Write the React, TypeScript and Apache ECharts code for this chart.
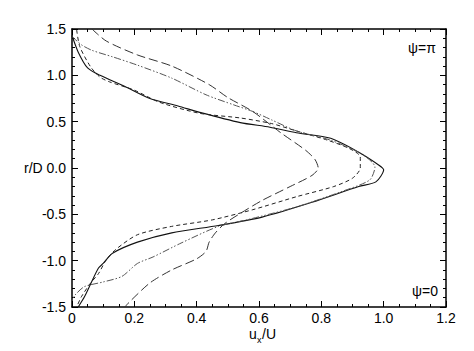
import React, { useEffect, useRef } from "react";
import * as echarts from "echarts";

// x ticks / y ticks
const xTicks = [0, 0.2, 0.4, 0.6, 0.8, 1.0, 1.2];
const yTicks = [-1.5, -1.0, -0.5, 0.0, 0.5, 1.0, 1.5];

// Solid curve
const solidU = [0, 0.02, 0.05, 0.09, 0.17, 0.25, 0.34, 0.41, 0.54, 0.635, 0.72, 0.83, 0.92, 0.985, 1.0, 0.975, 0.92, 0.77, 0.61, 0.47, 0.32, 0.21, 0.13, 0.10, 0.085, 0.06, 0.04, 0.02];
const solidR = [1.43, 1.25, 1.08, 1.0, 0.88, 0.75, 0.67, 0.60, 0.49, 0.44, 0.38, 0.32, 0.17, 0.03, -0.02, -0.15, -0.2, -0.37, -0.53, -0.62, -0.70, -0.80, -0.92, -1.03, -1.08, -1.25, -1.39, -1.5];

// Short-dash curve
const shortU = [0.015, 0.025, 0.06, 0.09, 0.12, 0.2, 0.28, 0.41, 0.54, 0.64, 0.72, 0.82, 0.89, 0.925, 0.925, 0.90, 0.84, 0.72, 0.58, 0.45, 0.32, 0.21, 0.14, 0.11, 0.085, 0.06, 0.03, 0.015];
const shortR = [1.49, 1.31, 1.09, 0.98, 0.93, 0.84, 0.71, 0.59, 0.54, 0.48, 0.40, 0.30, 0.21, 0.12, 0.0, -0.11, -0.2, -0.31, -0.45, -0.56, -0.63, -0.72, -0.88, -0.99, -1.14, -1.24, -1.39, -1.5];

// Dash-dot curve
const dotU = [0.0, 0.03, 0.064, 0.13, 0.21, 0.32, 0.43, 0.52, 0.58, 0.64, 0.72, 0.83, 0.93, 0.972, 0.955, 0.86, 0.72, 0.56, 0.47, 0.35, 0.26, 0.21, 0.16, 0.10, 0.04, 0.01, 0.0];
const dotR = [1.42, 1.33, 1.27, 1.2, 1.11, 0.97, 0.79, 0.68, 0.61, 0.52, 0.40, 0.30, 0.15, 0.01, -0.13, -0.26, -0.42, -0.56, -0.63, -0.81, -0.96, -1.03, -1.17, -1.23, -1.28, -1.37, -1.43];

// Long-dash curve
const longU = [0.064, 0.11, 0.21, 0.32, 0.44, 0.50, 0.58, 0.67, 0.75, 0.78, 0.79, 0.77, 0.70, 0.61, 0.54, 0.49, 0.46, 0.44, 0.43, 0.40, 0.32, 0.25, 0.18, 0.17];
const longR = [1.5, 1.37, 1.22, 1.1, 0.9, 0.76, 0.61, 0.38, 0.19, 0.09, 0.0, -0.08, -0.2, -0.35, -0.49, -0.6, -0.7, -0.8, -0.9, -0.98, -1.1, -1.24, -1.46, -1.5];

const pairs = (u: number[], r: number[]) => u.map((v, i) => [v, r[i]]);

const FONT = "Liberation Sans";

export default function App() {
  const ref = useRef<HTMLDivElement>(null);
  useEffect(() => {
    if (!ref.current) return;
    const chart = echarts.init(ref.current, null, { renderer: "svg" });
    const axisLine = { show: true, onZero: false, lineStyle: { color: "#000", width: 1.5 } };
    const grid = { left: 72, right: 28, top: 29, bottom: 44 };
    const mkX = (pos: string, labels: boolean) => ({
      type: "value",
      position: pos,
      min: xTicks[0],
      max: xTicks[xTicks.length - 1],
      interval: 0.2,
      axisLine,
      axisTick: { show: true, inside: true, length: 6, lineStyle: { color: "#000" } },
      minorTick: { show: true, splitNumber: 4, length: 3, lineStyle: { color: "#000" } },
      splitLine: { show: false },
      axisLabel: {
        show: labels,
        color: "#000",
        fontFamily: FONT,
        fontSize: 14,
        lineHeight: 14,
        margin: 4,
        formatter: (v: number) => (Math.abs(v) < 1e-9 ? "0" : v.toFixed(1)),
      },
    });
    const mkY = (pos: string, labels: boolean) => ({
      type: "value",
      position: pos,
      min: yTicks[0],
      max: yTicks[yTicks.length - 1],
      interval: 0.5,
      axisLine,
      axisTick: { show: true, inside: true, length: 6, lineStyle: { color: "#000" } },
      minorTick: { show: true, splitNumber: 5, length: 3, lineStyle: { color: "#000" } },
      splitLine: { show: false },
      axisLabel: {
        show: labels,
        color: "#000",
        fontFamily: FONT,
        fontSize: 14,
        margin: 6,
        formatter: (v: number) => (Math.abs(v) < 1e-9 ? "0.0" : v.toFixed(1)),
      },
    });
    const line = (name: string, data: number[][], type: any, color: string, width = 1) => ({
      name,
      type: "line",
      data,
      showSymbol: false,
      symbol: "none",
      smooth: 0.25,
      xAxisIndex: 0,
      yAxisIndex: 0,
      lineStyle: { color, width, type },
    });
    chart.setOption({
      animation: false,
      backgroundColor: "#fff",
      grid,
      xAxis: [mkX("bottom", true), mkX("top", false)],
      yAxis: [mkY("left", true), mkY("right", false)],
      series: [
        line("solid", pairs(solidU, solidR), "solid", "#111", 1.1),
        line("short", pairs(shortU, shortR), [4, 3], "#222", 1),
        line("dashdot", pairs(dotU, dotR), [7, 2, 1.5, 2, 1.5, 2], "#555", 1),
        line("long", pairs(longU, longR), [9, 4], "#333", 1),
      ],
      graphic: [
        {
          type: "text",
          x: 24,
          y: 168,
          style: { text: "r/D", fontFamily: FONT, fontSize: 14, fill: "#000", textVerticalAlign: "middle" },
        },
        {
          type: "text",
          x: 249,
          y: 327,
          style: { text: "u", fontFamily: FONT, fontSize: 14, lineHeight: 14, fill: "#000" },
        },
        {
          type: "text",
          x: 257,
          y: 335,
          style: { text: "x", fontFamily: FONT, fontSize: 9, lineHeight: 9, fill: "#000" },
        },
        {
          type: "text",
          x: 262,
          y: 327,
          style: { text: "/U", fontFamily: FONT, fontSize: 14, lineHeight: 14, fill: "#000" },
        },
        {
          type: "text",
          x: 422,
          y: 48,
          style: { text: "ψ=π", fontFamily: FONT, fontSize: 14, fill: "#000", textAlign: "center", textVerticalAlign: "middle" },
        },
        {
          type: "text",
          x: 425,
          y: 291,
          style: { text: "ψ=0", fontFamily: FONT, fontSize: 14, fill: "#000", textAlign: "center", textVerticalAlign: "middle" },
        },
      ],
    });
    return () => chart.dispose();
  }, []);
  return (
    <div
      ref={ref}
      style={{ position: "fixed", left: 0, top: 0, width: 474, height: 351, background: "#fff" }}
    />
  );
}
